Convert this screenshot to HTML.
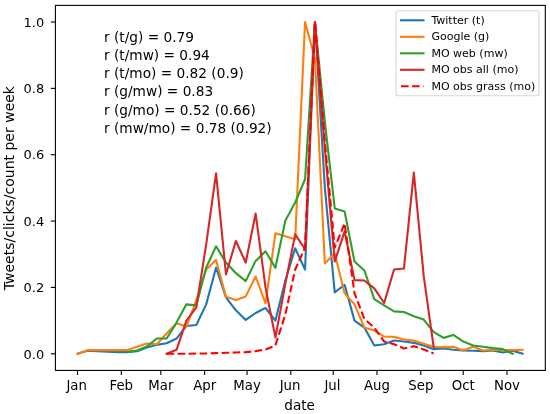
<!DOCTYPE html>
<html><head><meta charset="utf-8"><title>plot</title>
<style>html,body{margin:0;padding:0;background:#fff;}svg{display:block;}text{font-family:"DejaVu Sans","Liberation Sans",sans-serif;fill:#000;}</style></head><body>
<svg width="550" height="414" viewBox="0 0 550 414">
<rect x="0" y="0" width="550" height="414" fill="#ffffff"/>
<defs><clipPath id="c"><rect x="55.4" y="5.4" width="489.9" height="365.0"/></clipPath></defs>
<g clip-path="url(#c)" fill="none" stroke-linejoin="round" stroke-linecap="square">
<polyline points="77.65,353.80 87.54,350.81 97.43,351.15 107.31,351.81 117.20,352.14 127.09,352.14 136.97,351.15 146.86,347.50 156.75,344.84 166.64,343.18 176.53,338.54 186.41,325.93 196.30,324.93 206.19,304.36 216.07,267.53 225.96,297.39 235.85,310.33 245.74,319.96 255.62,312.99 265.51,308.01 275.40,320.62 285.29,280.80 295.17,248.29 305.06,269.52 314.95,22.00 324.84,187.90 334.73,292.42 344.61,284.79 354.50,320.62 364.39,327.59 374.27,345.50 384.16,344.18 394.05,340.53 403.94,341.52 413.82,342.85 423.71,345.50 433.60,349.15 443.49,348.49 453.38,349.82 463.26,350.48 473.15,350.81 483.04,351.15 492.92,350.48 502.81,352.47 512.70,350.81 522.59,353.80" stroke="#1f77b4" stroke-width="2.1"/>
<polyline points="77.65,353.80 87.54,350.15 97.43,350.15 107.31,350.15 117.20,350.15 127.09,350.15 136.97,346.83 146.86,343.51 156.75,344.18 166.64,333.56 176.53,323.27 186.41,326.59 196.30,300.38 206.19,269.52 216.07,259.90 225.96,296.73 235.85,300.05 245.74,296.40 255.62,276.49 265.51,303.37 275.40,233.36 285.29,236.34 295.17,239.33 305.06,22.00 314.95,58.50 324.84,263.55 334.73,253.26 344.61,293.41 354.50,304.36 364.39,327.59 374.27,330.57 384.16,336.55 394.05,336.88 403.94,339.53 413.82,340.53 423.71,343.85 433.60,346.83 443.49,347.16 453.38,346.83 463.26,350.48 473.15,346.83 483.04,350.48 492.92,349.82 502.81,350.15 512.70,350.15 522.59,349.82" stroke="#ff7f0e" stroke-width="2.1"/>
<polyline points="127.09,352.14 136.97,350.48 146.86,346.50 156.75,338.54 166.64,338.54 176.53,322.61 186.41,304.36 196.30,305.36 206.19,267.53 216.07,246.30 225.96,262.56 235.85,273.17 245.74,281.14 255.62,260.90 265.51,251.27 275.40,267.86 285.29,220.75 295.17,202.50 305.06,179.27 314.95,22.00 324.84,121.54 334.73,208.47 344.61,211.46 354.50,261.56 364.39,270.52 374.27,299.05 384.16,305.36 394.05,311.33 403.94,311.99 413.82,316.31 423.71,319.62 433.60,331.90 443.49,337.87 453.38,334.89 463.26,341.52 473.15,345.50 483.04,346.83 492.92,348.16 502.81,349.15 512.70,353.80" stroke="#2ca02c" stroke-width="2.1"/>
<polyline points="166.64,353.80 176.53,349.82 186.41,320.62 196.30,307.35 206.19,244.31 216.07,173.30 225.96,274.50 235.85,240.99 245.74,262.56 255.62,213.45 265.51,287.44 275.40,337.54 285.29,284.12 295.17,234.35 305.06,249.28 314.95,22.00 324.84,148.08 334.73,261.56 344.61,231.37 354.50,280.14 364.39,280.47 374.27,288.44 384.16,303.03 394.05,269.52 403.94,268.53 413.82,172.64 423.71,275.83 433.60,346.83" stroke="#d62728" stroke-width="2.1"/>
<polyline points="166.64,353.80 176.53,353.80 186.41,353.80 196.30,353.47 206.19,353.47 216.07,353.14 225.96,352.80 235.85,352.47 245.74,352.14 255.62,351.15 265.51,349.49 275.40,345.50 285.29,314.65 295.17,269.52 305.06,247.62 314.95,22.00 324.84,141.45 334.73,247.62 344.61,223.40 354.50,293.08 364.39,318.96 374.27,327.59 384.16,341.52 394.05,344.18 403.94,348.49 413.82,346.17 423.71,349.49 433.60,353.47" stroke="#ff0000" stroke-width="2.1" stroke-dasharray="7.6 3.4" stroke-linecap="butt"/>
</g>
<rect x="55.4" y="5.4" width="489.9" height="365.0" fill="none" stroke="#000" stroke-width="1.1"/>
<g stroke="#000" stroke-width="1.1">
<line x1="77.50" y1="370.4" x2="77.50" y2="375.0"/>
<line x1="121.30" y1="370.4" x2="121.30" y2="375.0"/>
<line x1="160.86" y1="370.4" x2="160.86" y2="375.0"/>
<line x1="204.65" y1="370.4" x2="204.65" y2="375.0"/>
<line x1="247.04" y1="370.4" x2="247.04" y2="375.0"/>
<line x1="290.83" y1="370.4" x2="290.83" y2="375.0"/>
<line x1="333.22" y1="370.4" x2="333.22" y2="375.0"/>
<line x1="377.01" y1="370.4" x2="377.01" y2="375.0"/>
<line x1="420.81" y1="370.4" x2="420.81" y2="375.0"/>
<line x1="463.19" y1="370.4" x2="463.19" y2="375.0"/>
<line x1="506.99" y1="370.4" x2="506.99" y2="375.0"/>
<line x1="55.4" y1="353.80" x2="50.8" y2="353.80"/>
<line x1="55.4" y1="287.44" x2="50.8" y2="287.44"/>
<line x1="55.4" y1="221.08" x2="50.8" y2="221.08"/>
<line x1="55.4" y1="154.72" x2="50.8" y2="154.72"/>
<line x1="55.4" y1="88.36" x2="50.8" y2="88.36"/>
<line x1="55.4" y1="22.00" x2="50.8" y2="22.00"/>
</g>
<g font-size="13.3" text-anchor="middle">
<text x="76.70" y="390.0">Jan</text>
<text x="121.30" y="390.0">Feb</text>
<text x="160.86" y="390.0">Mar</text>
<text x="204.65" y="390.0">Apr</text>
<text x="247.04" y="390.0">May</text>
<text x="290.03" y="390.0">Jun</text>
<text x="332.42" y="390.0">Jul</text>
<text x="377.01" y="390.0">Aug</text>
<text x="420.81" y="390.0">Sep</text>
<text x="463.19" y="390.0">Oct</text>
<text x="506.99" y="390.0">Nov</text>
</g>
<g font-size="13.0" text-anchor="end">
<text x="44.20" y="358.50">0.0</text>
<text x="44.20" y="292.14">0.2</text>
<text x="44.20" y="225.78">0.4</text>
<text x="44.20" y="159.42">0.6</text>
<text x="44.20" y="93.06">0.8</text>
<text x="44.20" y="26.70">1.0</text>
</g>
<text x="299.6" y="410.1" font-size="13.6" text-anchor="middle">date</text>
<text transform="translate(13.8,188.1) rotate(-90)" font-size="14" text-anchor="middle">Tweets/clicks/count per week</text>
<g font-size="13.7">
<text x="104" y="41.50">r (t/g) = 0.79</text>
<text x="104" y="59.80">r (t/mw) = 0.94</text>
<text x="104" y="78.10">r (t/mo) = 0.82 (0.9)</text>
<text x="104" y="96.40">r (g/mw) = 0.83</text>
<text x="104" y="114.70">r (g/mo) = 0.52 (0.66)</text>
<text x="104" y="133.00">r (mw/mo) = 0.78 (0.92)</text>
</g>
<rect x="396.1" y="10.8" width="142.8" height="84.9" rx="2" ry="2" fill="#ffffff" fill-opacity="0.8" stroke-opacity="0.8" stroke="#cccccc" stroke-width="1.1"/>
<line x1="401" y1="20.30" x2="423.5" y2="20.30" stroke="#1f77b4" stroke-width="2.1" stroke-linecap="square"/>
<text x="431.4" y="23.60" font-size="11.02">Twitter (t)</text>
<line x1="401" y1="36.80" x2="423.5" y2="36.80" stroke="#ff7f0e" stroke-width="2.1" stroke-linecap="square"/>
<text x="431.4" y="40.10" font-size="11.02">Google (g)</text>
<line x1="401" y1="53.30" x2="423.5" y2="53.30" stroke="#2ca02c" stroke-width="2.1" stroke-linecap="square"/>
<text x="431.4" y="56.60" font-size="11.02">MO web (mw)</text>
<line x1="401" y1="69.80" x2="423.5" y2="69.80" stroke="#d62728" stroke-width="2.1" stroke-linecap="square"/>
<text x="431.4" y="73.10" font-size="11.02">MO obs all (mo)</text>
<line x1="401" y1="86.30" x2="423.5" y2="86.30" stroke="#ff0000" stroke-width="2.1" stroke-linecap="butt" stroke-dasharray="7.6 3.4"/>
<text x="431.4" y="89.60" font-size="11.02">MO obs grass (mo)</text>
</svg></body></html>
